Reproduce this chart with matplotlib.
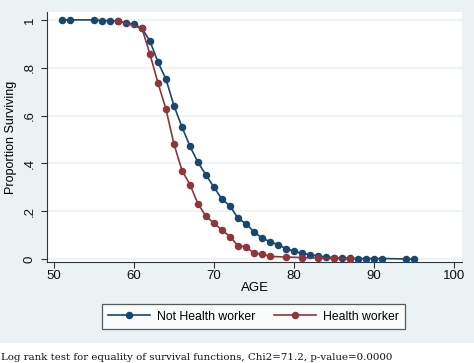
import matplotlib
matplotlib.use("Agg")
import matplotlib.pyplot as plt
from matplotlib.patches import Rectangle

plt.rcParams['font.family'] = ['Liberation Sans', 'DejaVu Sans']

# survival estimates
age_not_hw = [51, 52, 55, 56, 57, 58, 59, 60, 61, 62, 63, 64, 65, 66, 67, 68, 69, 70, 71, 72, 73, 74, 75,
              76, 77, 78, 79, 80, 81, 82, 83, 84, 85, 86, 87, 88, 89, 90, 91, 94, 95]
surv_not_hw = [1.0, 1.0, 1.0, 0.997, 0.997, 0.995, 0.987, 0.982, 0.964, 0.911, 0.823, 0.752, 0.640, 0.552,
               0.471, 0.404, 0.351, 0.300, 0.250, 0.222, 0.170, 0.148, 0.113, 0.088, 0.072, 0.060, 0.043,
               0.033, 0.024, 0.018, 0.013, 0.008, 0.006, 0.004, 0.003, 0.002, 0.002, 0.002, 0.002, 0.0, 0.0]
age_hw = [58, 61, 62, 63, 64, 65, 66, 67, 68, 69, 70, 71, 72, 73, 74, 75, 76, 77, 79, 81, 83, 85, 87]
surv_hw = [0.997, 0.964, 0.856, 0.736, 0.626, 0.480, 0.370, 0.311, 0.230, 0.180, 0.149, 0.121, 0.093,
           0.056, 0.051, 0.024, 0.021, 0.011, 0.008, 0.006, 0.004, 0.003, 0.0]

x_ticks = [50, 60, 70, 80, 90, 100]
y_ticks = [0, 0.2, 0.4, 0.6, 0.8, 1.0]
y_tick_labels = ["0", ".2", ".4", ".6", ".8", "1"]

NAVY = "#1a476f"
MAROON = "#90353b"
BG = "#eaf2f3"
W, H = 474, 363
FS = 9

fig = plt.figure(figsize=(W / 100, H / 100), dpi=100)
fig.patch.set_facecolor("white")
fig.patches.append(Rectangle((0, 20 / H), 1, 1 - 20 / H, transform=fig.transFigure,
                             facecolor=BG, edgecolor="none", zorder=-10))

ax = fig.add_axes([47 / W, (H - 262) / H, 415 / W, 250 / H])
ax.set_facecolor("white")
ax.plot(age_not_hw, surv_not_hw, color=NAVY, lw=1.2, marker="o", ms=4.4, label="Not Health worker", zorder=3)
ax.plot(age_hw, surv_hw, color=MAROON, lw=1.2, marker="o", ms=4.4, label="Health worker", zorder=4)

ax.set_xlim(49.125, 101)
ax.set_ylim(-0.0126, 1.033)
ax.set_xticks(x_ticks)
ax.set_yticks(y_ticks)
ax.set_yticklabels(y_tick_labels, rotation=90, va="center")
ax.tick_params(axis="both", labelsize=FS + 0.5, length=4, width=0.8, color="#333333", labelcolor="#111111")
ax.tick_params(axis="y", pad=4)
ax.tick_params(axis="x", pad=2)
ax.grid(axis="y", color=BG, lw=1.2)
ax.set_axisbelow(True)
for side in ("top", "right"):
    ax.spines[side].set_visible(False)
for side in ("left", "bottom"):
    ax.spines[side].set_color("#333333")
    ax.spines[side].set_linewidth(0.8)

ax.set_xlabel("AGE", fontsize=FS + 0.5, labelpad=0)
ax.set_ylabel("Proportion Surviving", fontsize=FS, labelpad=5)

leg = fig.legend(loc="center", bbox_to_anchor=(253.5 / W, (H - 316.5) / H), ncol=2, fontsize=FS - 0.2,
                 frameon=True, fancybox=False, edgecolor="#333333", handlelength=3.4,
                 columnspacing=1.6, borderpad=0.5, borderaxespad=0, handletextpad=0.55, markerscale=1.0)
leg.get_frame().set_linewidth(0.9)

fig.text(0.002, 3 / H, "Log rank test for equality of survival functions, Chi2=71.2, p-value=0.0000",
         family="DejaVu Serif", fontsize=7.4, ha="left", va="baseline", color="#111111")

fig.savefig("out.png", dpi=100)
